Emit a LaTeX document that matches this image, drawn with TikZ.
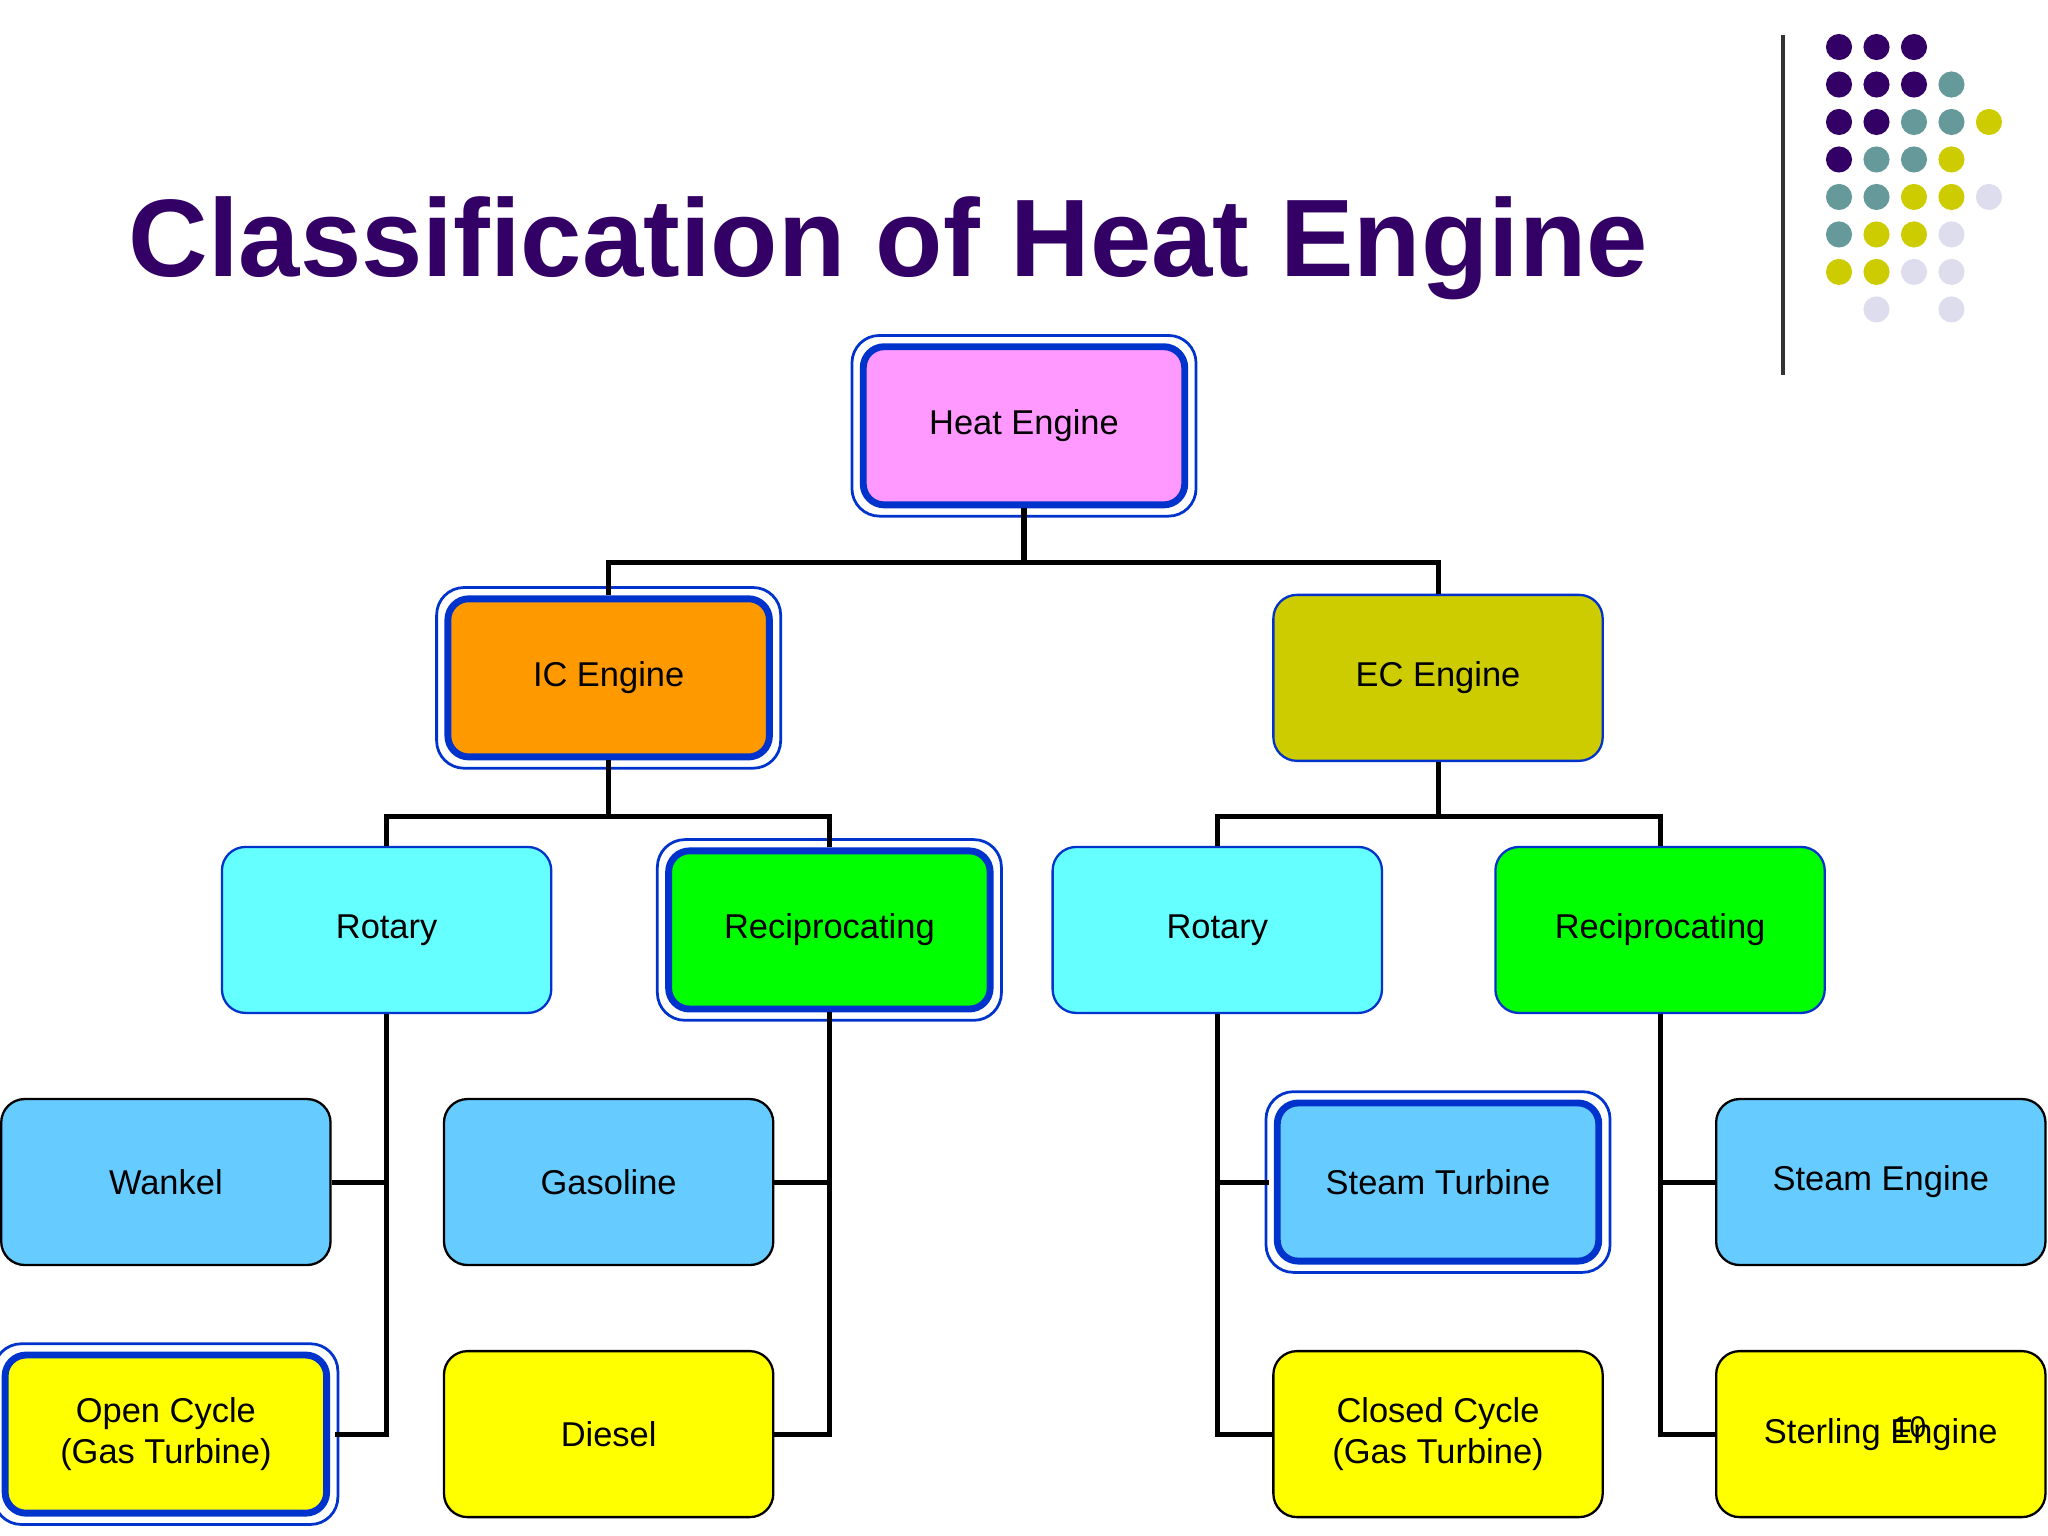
\documentclass[tikz,border=0pt]{standalone}
\usepackage{fontspec}
\setmainfont{Liberation Sans}
\begin{document}
\begin{tikzpicture}[x=0.01cm,y=-0.01cm,
  box/.style={rounded corners=0.18cm, minimum width=2.52cm, minimum height=1.27cm, align=center, font=\fontsize{7.5pt}{8.9pt}\selectfont, inner sep=0pt, line width=0.5pt},
  bb/.style={box, draw=black},
  bl/.style={box, draw=selblue},
  sel/.style={box, draw=selblue, line width=1.5pt, minimum width=2.46cm, minimum height=1.21cm, rounded corners=0.16cm},
  ring/.style={draw=selblue, line width=0.6pt, rounded corners=0.21cm},
  con/.style={line width=1.1pt, black},
  dot/.style={radius=10}]
\definecolor{selblue}{HTML}{0033CC}
\definecolor{tp}{HTML}{330066}
\definecolor{tt}{HTML}{669999}
\definecolor{ty}{HTML}{CCCC00}
\definecolor{tl}{HTML}{DDDDEE}
\definecolor{pink}{HTML}{FF99FF}
\definecolor{orng}{HTML}{FF9900}
\definecolor{olive}{HTML}{CCCC00}
\definecolor{cyan2}{HTML}{66FFFF}
\definecolor{grn}{HTML}{00FF00}
\definecolor{lblue}{HTML}{66CCFF}
\definecolor{yel}{HTML}{FFFF00}
\useasboundingbox (0,0) rectangle (1568,1176);

\node[font=\fontsize{24pt}{28pt}\selectfont\bfseries, text=tp] (title) at (680,190) {Classification of Heat Engine};
\draw[line width=0.8pt, black!80] (1365,27) coordinate (la) -- (1365,287) coordinate (lb);
\foreach \c/\x/\y in {tp/0/0,tp/1/0,tp/2/0, tp/0/1,tp/1/1,tp/2/1,tt/3/1, tp/0/2,tp/1/2,tt/2/2,tt/3/2,ty/4/2, tp/0/3,tt/1/3,tt/2/3,ty/3/3, tt/0/4,tt/1/4,ty/2/4,ty/3/4,tl/4/4, tt/0/5,ty/1/5,ty/2/5,tl/3/5, ty/0/6,ty/1/6,tl/2/6,tl/3/6, tl/1/7,tl/3/7}
  \fill[\c] (1408+28.7*\x,36+28.7*\y) circle[dot];

\node[sel, fill=pink] (he) at (784,326) {Heat Engine};
\node[sel, fill=orng] (ic) at (466,519) {IC Engine};
\node[bl, fill=olive] (ec) at (1101,519) {EC Engine};
\node[bl, fill=cyan2] (r1) at (296,712) {Rotary};
\node[sel, fill=grn] (p1) at (635,712) {Reciprocating};
\node[bl, fill=cyan2] (r2) at (932,712) {Rotary};
\node[bl, fill=grn] (p2) at (1271,712) {Reciprocating};
\node[bb, fill=lblue] (wa) at (127,905) {Wankel};
\node[bb, fill=lblue] (ga) at (466,905) {Gasoline};
\node[sel, fill=lblue] (st) at (1101,905) {Steam Turbine};
\node[bb, fill=lblue] (se) at (1440,905) {Steam Engine};
\node[sel, fill=yel] (oc) at (127,1098) {Open Cycle\\(Gas Turbine)};
\node[bb, fill=yel] (di) at (466,1098) {Diesel};
\node[bb, fill=yel] (cc) at (1101,1098) {Closed Cycle\\(Gas Turbine)};
\node[bb, fill=yel] (sg) at (1440,1098) {Sterling Engine};
\node[font=\fontsize{6.5pt}{8pt}\selectfont] (pg) at (1462,1093) {10};

\foreach \n in {he,ic,p1,st,oc}
  \draw[ring] ([shift={(-6,6)}]\n.south west) rectangle ([shift={(6,-6)}]\n.north east);

\draw[con] (he.south) |- (466,431) coordinate (h1) -- (ic.north);
\draw[con] (h1) -| (ec.north);
\draw[con] (ic.south) |- (296,625) coordinate (i1) -- (r1.north);
\draw[con] (i1) -| (p1.north);
\draw[con] (ec.south) |- (932,625) coordinate (e1) -- (r2.north);
\draw[con] (e1) -| (p2.north);
\draw[con] (r1.south) |- (wa.east);
\draw[con] (r1.south) |- ([xshift=0.04cm]oc.east);
\draw[con] (p1.south) |- (ga.east);
\draw[con] (p1.south) |- (di.east);
\draw[con] (r2.south) |- ([xshift=-0.04cm]st.west);
\draw[con] (r2.south) |- (cc.west);
\draw[con] (p2.south) |- (se.west);
\draw[con] (p2.south) |- (sg.west);
\end{tikzpicture}
\end{document}
